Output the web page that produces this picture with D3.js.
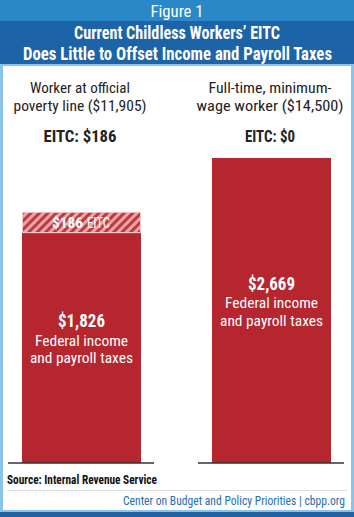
<!DOCTYPE html>
<html>
<head>
<meta charset="utf-8">
<script src="https://cdn.jsdelivr.net/npm/d3@7"></script>
<style>
  html, body { margin: 0; padding: 0; background: #fff; }
  svg { display: block; }
  text { font-family: "Liberation Sans Narrow", "Roboto Condensed", "DejaVu Sans Condensed", Roboto, sans-serif; }
</style>
</head>
<body>
<div id="viz"></div>
<script>
'use strict';

// data
const categories = ['poverty', 'minwage'];
const taxes = [1826, 2669];
const eitc = [186, 0];
const taxLabels = ['$1,826', '$2,669'];
const headLines = [
  ['Worker at official', 'poverty line ($11,905)'],
  ['Full-time, minimum-', 'wage worker ($14,500)']
];
const eitcLabels = ['EITC: $186', 'EITC: $0'];
const headWidths = [[100, 133], [123, 147]];
const eitcWidths = [73, 50];

const W = 354, H = 517;
const RED = '#b5262f';

const svg = d3.select('#viz').append('svg')
  .attr('width', W).attr('height', H);

// hatch pattern
const defs = svg.append('defs');
const pat = defs.append('pattern')
  .attr('id', 'hatch')
  .attr('patternUnits', 'userSpaceOnUse')
  .attr('width', 6).attr('height', 6)
  .attr('patternTransform', 'rotate(45)');
pat.append('rect').attr('width', 6).attr('height', 6).attr('fill', '#bf3a40');
pat.append('rect').attr('width', 3).attr('height', 6).attr('fill', '#eaa5a7');

// frame
svg.append('rect').attr('width', W).attr('height', H).attr('fill', '#8cc3e8');
svg.append('rect').attr('x', 3).attr('y', 66).attr('width', W - 6).attr('height', 444).attr('fill', '#fff');
svg.append('rect').attr('x', 0).attr('y', 512).attr('width', W).attr('height', 5).attr('fill', '#1f62a3');

// header bands
svg.append('rect').attr('width', W).attr('height', 21).attr('fill', '#2a88c8');
svg.append('rect').attr('y', 21).attr('width', W).attr('height', 43).attr('fill', '#1c63a8');

function txt(x, y, s, opts) {
  const t = svg.append('text')
    .attr('x', x).attr('y', y)
    .attr('text-anchor', opts.anchor || 'middle')
    .attr('font-size', opts.size)
    .attr('font-weight', opts.bold ? 'bold' : 'normal')
    .attr('fill', opts.fill || '#222')
    .text(s);
  if (opts.len) t.attr('textLength', opts.len).attr('lengthAdjust', 'spacingAndGlyphs');
  return t;
}

txt(177, 17, 'Figure 1', { size: 17, fill: '#fff', len: 53 });
txt(177, 39, 'Current Childless Workers\u2019 EITC', { size: 18, bold: true, fill: '#fff', len: 206 });
txt(177.5, 60, 'Does Little to Offset Income and Payroll Taxes', { size: 18, bold: true, fill: '#fff', len: 309 });

// scales
const x = d3.scaleBand().domain(categories).range([22, 331]).paddingInner(0.3737).paddingOuter(0);
const y = d3.scaleLinear().domain([0, 2669]).range([463, 158]);

const rows = categories.map((c, i) => ({ c, tax: taxes[i], eitc: eitc[i], i }));

// tax bars (gross, before the credit)
svg.selectAll('.bar').data(rows).enter().append('rect')
  .attr('class', 'bar')
  .attr('x', d => x(d.c))
  .attr('y', d => y(d.tax + d.eitc))
  .attr('width', x.bandwidth())
  .attr('height', d => y(0) - y(d.tax + d.eitc))
  .attr('fill', RED);

// EITC hatch
svg.selectAll('.eitc').data(rows.filter(d => d.eitc > 0)).enter().append('rect')
  .attr('class', 'eitc')
  .attr('x', d => x(d.c) + 0.5)
  .attr('y', d => y(d.tax + 2 * d.eitc) + 0.5)
  .attr('width', x.bandwidth() - 1)
  .attr('height', d => y(d.tax + d.eitc) - y(d.tax + 2 * d.eitc) - 1)
  .attr('fill', 'url(#hatch)')
  .attr('stroke', '#f3c9ca')
  .attr('stroke-width', 1);

rows.filter(d => d.eitc > 0).forEach(d => {
  const cx = x(d.c) + x.bandwidth() / 2;
  const by = (y(d.tax + 2 * d.eitc) + y(d.tax + d.eitc)) / 2 + 6;
  txt(cx + 1.5, by, '$' + d.eitc, { size: 15, bold: true, fill: '#fff', anchor: 'end', len: 31 });
  txt(cx + 5.5, by, 'EITC', { size: 14, fill: '#fff', anchor: 'start', len: 23 });
});

// baselines
svg.selectAll('.base').data(rows).enter().append('line')
  .attr('x1', d => x(d.c) - 14)
  .attr('x2', d => x(d.c) + x.bandwidth() + 13)
  .attr('y1', y(0)).attr('y2', y(0))
  .attr('stroke', '#333').attr('stroke-width', 1.5);

// in-bar labels
rows.forEach(d => {
  const cx = x(d.c) + x.bandwidth() / 2;
  const mid = (y(d.tax + d.eitc) + y(0)) / 2 - 8;
  txt(cx, mid - 13, taxLabels[d.i], { size: 19, bold: true, fill: '#fff', len: 47 });
  txt(cx, mid + 5.5, 'Federal income', { size: 15.5, fill: '#fff', len: 93 });
  txt(cx, mid + 23, 'and payroll taxes', { size: 15.5, fill: '#fff', len: 103 });
});

// column headings
rows.forEach(d => {
  const cx = x(d.c) + x.bandwidth() / 2 - 1.5;
  txt(cx, 93, headLines[d.i][0], { size: 15.5, len: headWidths[d.i][0] });
  txt(cx, 111, headLines[d.i][1], { size: 15.5, len: headWidths[d.i][1] });
  txt(cx, 142, eitcLabels[d.i], { size: 17, bold: true, len: eitcWidths[d.i] });
});

// source + footer
txt(7, 484, 'Source: Internal Revenue Service', { size: 12.5, bold: true, anchor: 'start', fill: '#111', len: 150 });
svg.append('line').attr('x1', 7).attr('x2', 347).attr('y1', 490.5).attr('y2', 490.5)
  .attr('stroke', '#d5dde6').attr('stroke-width', 1);
txt(345, 505, 'Center on Budget and Policy Priorities | cbpp.org', { size: 12, anchor: 'end', fill: '#2a6db0', len: 222 });
</script>
</body>
</html>
